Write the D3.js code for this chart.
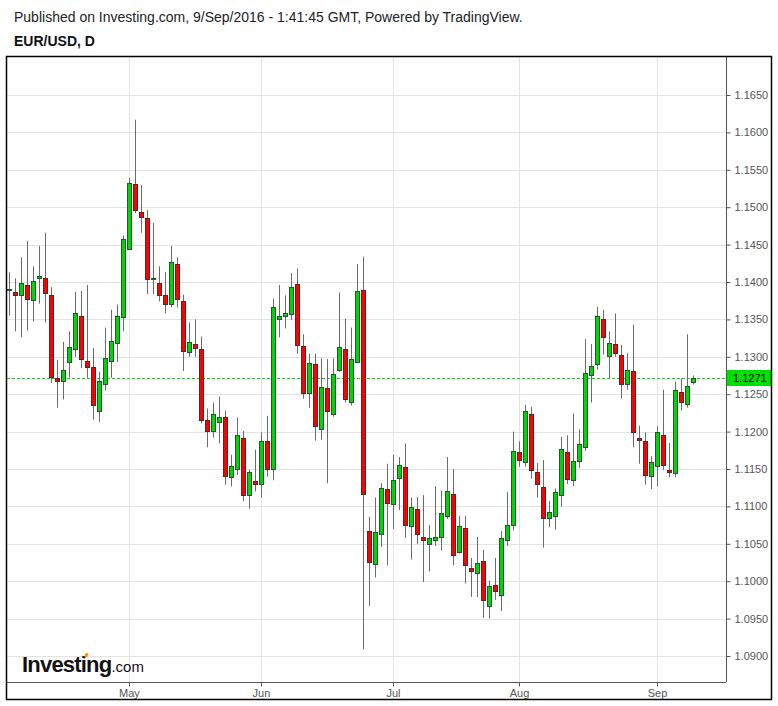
<!DOCTYPE html>
<html><head><meta charset="utf-8">
<script src="https://cdn.jsdelivr.net/npm/d3@7"></script>
<style>body{margin:0;background:#fff;} svg{display:block;font-family:"Liberation Sans",Arial,sans-serif;}</style>
</head><body><svg id="c" width="778" height="706"></svg>
<script>
const opens = [1.1390,1.1387,1.1382,1.1396,1.1376,1.1405,1.1405,1.1383,1.1271,1.1267,1.1293,1.1311,1.1354,1.1295,1.1287,1.1228,1.1264,1.1295,1.1318,1.1353,
1.1444,1.1531,1.1494,1.1486,1.1404,1.1399,1.1382,1.1371,1.1424,1.1375,1.1307,1.1317,1.1311,1.1215,1.1201,1.1213,1.1219,1.1139,1.1150,1.1192,
1.1115,1.1134,1.1130,1.1187,1.1150,1.1350,1.1354,1.1357,1.1397,1.1315,1.1251,1.1291,1.1203,1.1258,1.1223,1.1282,1.1310,1.1239,1.1293,1.1389,
1.1067,1.1023,1.1063,1.1123,1.1103,1.1138,1.1153,1.1074,1.1097,1.1059,1.1050,1.1055,1.1059,1.1087,1.1116,1.1039,1.1071,1.1017,1.1011,1.1027,
1.0967,1.0995,1.0981,1.1055,1.1075,1.1173,1.1160,1.1223,1.1146,1.1126,1.1085,1.1087,1.1115,1.1173,1.1135,1.1161,1.1180,1.1276,1.1291,1.1350,
1.1301,1.1317,1.1303,1.1263,1.1281,1.1191,1.1187,1.1141,1.1154,1.1195,1.1149,1.1144,1.1253,1.1237,1.1266];
const highs = [1.1413,1.1405,1.1433,1.1455,1.1421,1.1448,1.1466,1.1393,1.1296,1.1320,1.1334,1.1387,1.1388,1.1396,1.1312,1.1280,1.1339,1.1363,1.1370,1.1462,
1.1539,1.1617,1.1530,1.1496,1.1479,1.1421,1.1413,1.1448,1.1433,1.1383,1.1346,1.1350,1.1327,1.1231,1.1239,1.1247,1.1228,1.1169,1.1219,1.1201,
1.1149,1.1176,1.1199,1.1221,1.1378,1.1396,1.1382,1.1412,1.1418,1.1330,1.1304,1.1304,1.1298,1.1297,1.1298,1.1386,1.1351,1.1339,1.1424,1.1434,
1.1086,1.1112,1.1131,1.1157,1.1169,1.1166,1.1184,1.1112,1.1113,1.1115,1.1075,1.1127,1.1121,1.1166,1.1150,1.1087,1.1087,1.1031,1.1059,1.1042,
1.1001,1.1031,1.1067,1.1119,1.1200,1.1187,1.1236,1.1233,1.1158,1.1162,1.1107,1.1124,1.1193,1.1195,1.1224,1.1203,1.1324,1.1317,1.1367,1.1363,
1.1334,1.1358,1.1316,1.1305,1.1343,1.1208,1.1199,1.1167,1.1207,1.1256,1.1185,1.1267,1.1271,1.1330,1.1275];
const lows = [1.1355,1.1334,1.1326,1.1335,1.1347,1.1371,1.1346,1.1265,1.1232,1.1243,1.1272,1.1300,1.1285,1.1272,1.1216,1.1213,1.1255,1.1272,1.1293,1.1334,
1.1443,1.1492,1.1466,1.1384,1.1384,1.1374,1.1358,1.1366,1.1366,1.1281,1.1300,1.1300,1.1211,1.1179,1.1192,1.1184,1.1129,1.1127,1.1142,1.1107,
1.1097,1.1120,1.1112,1.1140,1.1135,1.1326,1.1338,1.1349,1.1304,1.1244,1.1232,1.1188,1.1189,1.1131,1.1220,1.1280,1.1239,1.1235,1.1292,1.0909,
1.0967,1.1005,1.1046,1.1021,1.1070,1.1095,1.1058,1.1029,1.1050,1.0999,1.1013,1.1047,1.1041,1.1083,1.1021,1.1037,1.0997,1.0979,1.0979,1.0951,
1.0950,1.0975,1.0960,1.1047,1.1068,1.1153,1.1153,1.1137,1.1112,1.1045,1.1072,1.1069,1.1100,1.1130,1.1127,1.1151,1.1174,1.1239,1.1283,1.1303,
1.1270,1.1300,1.1244,1.1256,1.1179,1.1157,1.1129,1.1123,1.1127,1.1149,1.1139,1.1139,1.1228,1.1232,1.1263];
const closes = [1.1391,1.1383,1.1399,1.1377,1.1401,1.1408,1.1385,1.1273,1.1267,1.1283,1.1313,1.1358,1.1297,1.1287,1.1235,1.1267,1.1299,1.1321,1.1354,1.1457,
1.1533,1.1496,1.1487,1.1404,1.1405,1.1382,1.1371,1.1427,1.1377,1.1308,1.1320,1.1312,1.1216,1.1201,1.1224,1.1219,1.1140,1.1154,1.1195,1.1115,
1.1146,1.1130,1.1188,1.1150,1.1367,1.1355,1.1358,1.1393,1.1316,1.1251,1.1292,1.1208,1.1259,1.1227,1.1277,1.1313,1.1243,1.1297,1.1388,1.1117,
1.1026,1.1066,1.1125,1.1105,1.1135,1.1155,1.1075,1.1099,1.1063,1.1055,1.1058,1.1059,1.1091,1.1120,1.1035,1.1074,1.1021,1.1013,1.1024,1.0975,
1.0993,1.0987,1.1058,1.1075,1.1174,1.1162,1.1227,1.1149,1.1130,1.1085,1.1093,1.1119,1.1177,1.1137,1.1161,1.1184,1.1279,1.1288,1.1354,1.1326,
1.1319,1.1305,1.1263,1.1283,1.1199,1.1189,1.1142,1.1159,1.1199,1.1155,1.1146,1.1256,1.1239,1.1261,1.1271];
const firstDay = "2016-04-04";
const lastDay = "2016-09-09";
const monthNames = ["Jan","Feb","Mar","Apr","May","Jun","Jul","Aug","Sep","Oct","Nov","Dec"];
const yTicks = [1.0900,1.0950,1.1000,1.1050,1.1100,1.1150,1.1200,1.1250,1.1300,1.1350,1.1400,1.1450,1.1500,1.1550,1.1600,1.1650];
const lastPrice = 1.1271;
const titleText = "Published on Investing.com, 9/Sep/2016 - 1:41:45 GMT, Powered by TradingView.";
const symbolText = "EUR/USD, D";

(function () {
const parse = d3.utcParse("%Y-%m-%d");
const dates = d3.utcDay.range(parse(firstDay), d3.utcDay.offset(parse(lastDay), 1)).filter(d => d.getUTCDay() % 6 !== 0);
const data = dates.map((d, i) => ({date: d, o: opens[i], h: highs[i], l: lows[i], c: closes[i]}));

const svg = d3.select("#c");
const pL = 7, pR = 726, pT = 57, pB = 682;
const narrow = "'Liberation Sans Narrow','Arial Narrow','Liberation Sans',sans-serif";

const x = d3.scaleLinear().domain([-0.33, 119.5]).range([pL, pR]);
const y = d3.scaleLinear().domain([1.09, 1.165]).range([656, 95]);

svg.append("text").attr("x", 14).attr("y", 22).attr("font-size", 14).attr("fill", "#222").text(titleText);
svg.append("text").attr("x", 14).attr("y", 46).attr("font-size", 14).attr("font-weight", "bold").attr("fill", "#111").text(symbolText);

const monthIdx = [];
data.forEach((d, i) => { if (i > 0 && d.date.getUTCMonth() !== data[i-1].date.getUTCMonth()) monthIdx.push(i); });

svg.append("defs").append("clipPath").attr("id", "pc").append("rect")
  .attr("x", pL).attr("y", pT).attr("width", pR - pL).attr("height", pB - pT);

const g = svg.append("g");
g.selectAll("line.hg").data(yTicks).join("line")
  .attr("x1", pL).attr("x2", pR)
  .attr("y1", d => Math.round(y(d)) + 0.5).attr("y2", d => Math.round(y(d)) + 0.5)
  .attr("stroke", "#e3e3e3").attr("stroke-width", 1);
g.selectAll("line.vg").data(monthIdx).join("line")
  .attr("x1", d => Math.round(x(d)) + 0.5).attr("x2", d => Math.round(x(d)) + 0.5)
  .attr("y1", pT).attr("y2", pB)
  .attr("stroke", "#e3e3e3").attr("stroke-width", 1);

svg.append("line").attr("x1", pL).attr("x2", pR)
  .attr("y1", Math.round(y(lastPrice)) + 0.5).attr("y2", Math.round(y(lastPrice)) + 0.5)
  .attr("stroke", "#00dd00").attr("stroke-width", 1).attr("stroke-dasharray", "3,2");

const cg = svg.append("g").attr("clip-path", "url(#pc)");
const cx = i => Math.round(x(i));
cg.selectAll("line.wick").data(data).join("line")
  .attr("x1", (d, i) => cx(i) + 0.5).attr("x2", (d, i) => cx(i) + 0.5)
  .attr("y1", d => y(d.h)).attr("y2", d => y(d.l))
  .attr("stroke", "#6b6b6b").attr("stroke-width", 1);
cg.selectAll("rect.body").data(data).join("rect")
  .attr("x", (d, i) => cx(i) - 1.5)
  .attr("width", 4)
  .attr("y", d => Math.round(y(Math.max(d.o, d.c))) + 0.5)
  .attr("height", d => Math.max(1, Math.round(y(Math.min(d.o, d.c))) - Math.round(y(Math.max(d.o, d.c)))))
  .attr("fill", d => d.c >= d.o ? "#00d600" : "#ff0000")
  .attr("stroke", d => d.c >= d.o ? "#1f5a2a" : "#6a1f1f")
  .attr("stroke-width", 1);

const yAxis = d3.axisRight(y).tickValues(yTicks).tickFormat(d3.format(".4f")).tickSize(4).tickPadding(4);
const ya = svg.append("g").attr("transform", `translate(${pR + 0.5},0)`).call(yAxis);
ya.select(".domain").attr("d", `M0,${pT}V${pB}`).attr("stroke", "#555");
ya.selectAll(".tick line").attr("stroke", "#555");
ya.selectAll(".tick text").attr("fill", "#555").attr("font-size", 11).attr("font-family", narrow);

const xAxis = d3.axisBottom(x).tickValues(monthIdx).tickFormat(i => monthNames[data[i].date.getUTCMonth()]).tickSize(4).tickPadding(3);
const xa = svg.append("g").attr("transform", `translate(0,${pB + 0.5})`).call(xAxis);
xa.select(".domain").attr("d", `M${pL},0H${pR}`).attr("stroke", "#555");
xa.selectAll(".tick line").attr("stroke", "#555");
xa.selectAll(".tick text").attr("fill", "#555").attr("font-size", 11).attr("font-family", narrow);

const ly = Math.round(y(lastPrice));
svg.append("rect").attr("x", pR + 1).attr("y", ly - 8).attr("width", 45).attr("height", 16).attr("fill", "#00e000");
svg.append("text").attr("x", pR + 7).attr("y", ly + 4).attr("font-size", 11).attr("fill", "#000")
  .attr("font-family", narrow).text(d3.format(".4f")(lastPrice));

svg.append("rect").attr("x", 6.5).attr("y", 56.5).attr("width", 765).attr("height", 643)
  .attr("fill", "none").attr("stroke", "#000").attr("stroke-width", 1.5);

const logo = svg.append("text").attr("x", 22).attr("y", 672).attr("fill", "#111");
logo.append("tspan").attr("font-size", 22).attr("font-weight", "bold").attr("letter-spacing", -0.8)
  .attr("font-family", narrow).text("Investing");
logo.append("tspan").attr("font-size", 15).attr("font-family", narrow).text(".com");
svg.append("rect").attr("x", 85).attr("y", 653).attr("width", 3).attr("height", 4).attr("fill", "#f59a00").attr("transform", "rotate(20,86,655)");
})();
</script></body></html>
